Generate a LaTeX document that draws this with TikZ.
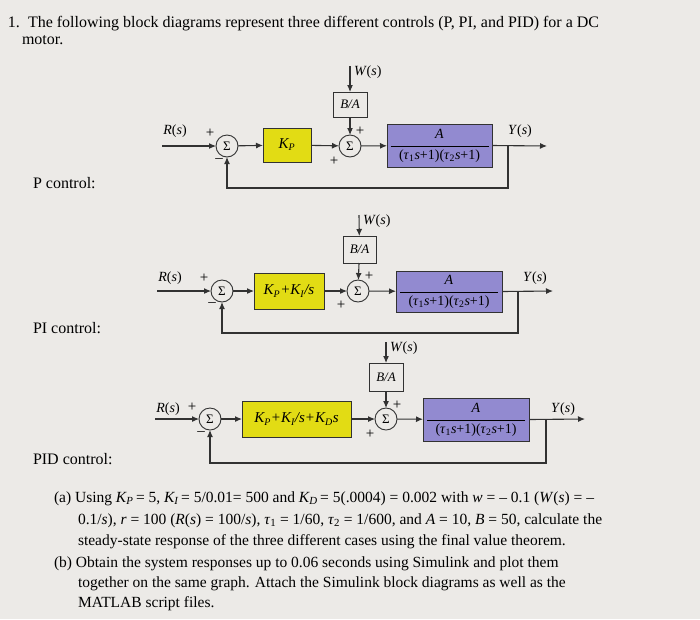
\documentclass[tikz,border=0pt]{standalone}
\usepackage{fontspec}
\setmainfont{Liberation Serif}
\usetikzlibrary{arrows.meta}
\definecolor{bg}{RGB}{236,234,231}
\definecolor{yel}{RGB}{226,220,20}
\definecolor{blu}{RGB}{146,138,208}
\definecolor{ln}{RGB}{50,50,50}
\newcommand{\ii}[1]{\textit{#1}}
\newcommand{\sbs}[1]{\textsubscript{\fontsize{10}{10}\selectfont #1}}
\newcommand{\plantfrac}{\ii{A}\\[-4pt]\rule{98pt}{0.6pt}\\[1pt](\ii{τ}\textsubscript{1}\ii{s}+1)(\ii{τ}\textsubscript{2}\ii{s}+1)}
\begin{document}
\begin{tikzpicture}[x=1pt,y=-1pt,
  every node/.style={inner sep=0pt,outer sep=0pt},
  sig/.style={draw=ln,line width=1.1pt,-{Latex[length=7pt,width=6pt]}},
  sum/.style={circle,draw=ln,line width=0.9pt,fill=bg,minimum size=22pt,font=\fontsize{13}{13}\selectfont},
  ybox/.style={draw=ln,line width=0.8pt,fill=yel,font=\fontsize{15}{15}\selectfont\itshape},
  bbox/.style={draw=ln,line width=0.8pt,fill=blu,align=center,font=\fontsize{14}{12}\selectfont},
  gbox/.style={draw=ln,line width=0.8pt,fill=bg,font=\fontsize{13}{13}\selectfont\itshape},
  lab/.style={font=\fontsize{14}{14}\selectfont},
  sgn/.style={font=\fontsize{15}{15}\selectfont},
  txt/.style={anchor=base west,font=\fontsize{16}{18}\selectfont},
  qtxt/.style={anchor=base west,font=\fontsize{15.5}{18}\selectfont}]
\fill[bg] (0,0) rectangle (700,619);
\useasboundingbox (0,0) rectangle (700,619);
\node[txt] (t1) at (8,27) {1.\ \ The following block diagrams represent three different controls (P, PI, and PID) for a DC};
\node[txt] (t2) at (22,44) {motor.};
\node[txt] (pc) at (33,188) {P control:};
\node[txt] (pic) at (33,333) {PI control:};
\node[txt] (pidc) at (33,464) {PID control:};
% ---------- P ----------
\coordinate (in1) at (162,146);
\node[sum] (s11) at (227,146) {Σ};
\node[ybox,minimum width=48pt,minimum height=34pt] (k1) at (287,145) {K\sbs{P}};
\node[sum] (s12) at (350,146) {Σ};
\node[gbox,minimum width=34pt,minimum height=25pt] (ba1) at (350,104.5) {B/A};
\coordinate (w1) at (350,66);
\node[bbox,minimum width=105pt,minimum height=43pt] (g1) at (439.5,145.5) {\plantfrac};
\coordinate (br1) at (508,146);
\coordinate (out1) at (547,146);
\coordinate (fb1) at (508,188);
\draw[sig] (in1) -- (s11);
\draw[sig] (s11) -- (k1);
\draw[sig] (k1) -- (s12);
\draw[sig] (w1) -- (ba1);
\draw[sig] (ba1) -- (s12);
\draw[sig] (s12) -- (g1);
\draw[sig] (g1.east) -- (out1);
\draw[sig] (br1) -- (fb1) -| (s11);
\node[lab] (r1) at (175,131) {\ii{R}(\ii{s})};
\node[lab] (y1) at (520,131) {\ii{Y}(\ii{s})};
\node[lab,anchor=west] (wl1) at (354,72) {\ii{W}(\ii{s})};
\node[sgn] (p11) at (210,133) {+};
\node[sgn] (m11) at (219,161) {–};
\node[sgn] (p12) at (334,161) {+};
\node[sgn] (p13) at (360,131) {+};
% ---------- PI ----------
\coordinate (in2) at (157,291);
\node[sum] (s21) at (222,291) {Σ};
\node[ybox,minimum width=70pt,minimum height=36pt] (k2) at (289,291) {K\sbs{P}+K\sbs{I}/s};
\node[sum] (s22) at (358,291) {Σ};
\node[gbox,minimum width=33pt,minimum height=27pt] (ba2) at (359.5,249.5) {B/A};
\coordinate (w2) at (359,215);
\node[bbox,minimum width=106pt,minimum height=41pt] (g2) at (449,291.5) {\plantfrac};
\coordinate (br2) at (518,291);
\coordinate (out2) at (553,291);
\coordinate (fb2) at (518,333);
\draw[sig] (in2) -- (s21);
\draw[sig] (s21) -- (k2);
\draw[sig] (k2) -- (s22);
\draw[sig] (w2) -- (ba2);
\draw[sig] (ba2) -- (s22);
\draw[sig] (s22) -- (g2);
\draw[sig] (g2.east) -- (out2);
\draw[sig] (br2) -- (fb2) -| (s21);
\node[lab] (r2) at (170,278) {\ii{R}(\ii{s})};
\node[lab] (y2) at (535,278) {\ii{Y}(\ii{s})};
\node[lab,anchor=west] (wl2) at (363,221) {\ii{W}(\ii{s})};
\node[sgn] (p21) at (204,278) {+};
\node[sgn] (m21) at (212,305) {–};
\node[sgn] (p22) at (341,305) {+};
\node[sgn] (p23) at (369,276) {+};
% ---------- PID ----------
\coordinate (in3) at (155,419);
\node[sum] (s31) at (210,419) {Σ};
\node[ybox,minimum width=109pt,minimum height=36pt] (k3) at (296.5,419) {K\sbs{P}+K\sbs{I}/s+K\sbs{D}s};
\node[sum] (s32) at (386,419) {Σ};
\node[gbox,minimum width=34pt,minimum height=28pt] (ba3) at (386,377) {B/A};
\coordinate (w3) at (386,342);
\node[bbox,minimum width=106pt,minimum height=43pt] (g3) at (476,419.5) {\plantfrac};
\coordinate (br3) at (546,419);
\coordinate (out3) at (585,419);
\coordinate (fb3) at (546,463);
\draw[sig] (in3) -- (s31);
\draw[sig] (s31) -- (k3);
\draw[sig] (k3) -- (s32);
\draw[sig] (w3) -- (ba3);
\draw[sig] (ba3) -- (s32);
\draw[sig] (s32) -- (g3);
\draw[sig] (g3.east) -- (out3);
\draw[sig] (br3) -- (fb3) -| (s31);
\node[lab] (r3) at (168,409) {\ii{R}(\ii{s})};
\node[lab] (y3) at (563,409) {\ii{Y}(\ii{s})};
\node[lab,anchor=west] (wl3) at (390,348) {\ii{W}(\ii{s})};
\node[sgn] (p31) at (192,407) {+};
\node[sgn] (m31) at (201,434) {–};
\node[sgn] (p32) at (370,434) {+};
\node[sgn] (p33) at (397,405) {+};
% ---------- questions ----------
\node[qtxt] (a1) at (54,502) {(a) Using \ii{K\textsubscript{P}}\,= 5, \ii{K\textsubscript{I}}\,= 5/0.01= 500 and \ii{K\textsubscript{D}}\,= 5(.0004) = 0.002 with \ii{w} = – 0.1 (\ii{W}(\ii{s}) = –};
\node[qtxt] (a2) at (78,524) {0.1/\ii{s}), \ii{r} = 100 (\ii{R}(\ii{s}) = 100/\ii{s}), \ii{τ}\textsubscript{1} = 1/60, \ii{τ}\textsubscript{2} = 1/600, and \ii{A} = 10, \ii{B} = 50, calculate the};
\node[qtxt] (a3) at (78,545) {steady-state response of the three different cases using the final value theorem.};
\node[qtxt] (b1) at (54,567) {(b) Obtain the system responses up to 0.06 seconds using Simulink and plot them};
\node[qtxt] (b2) at (78,587) {together on the same graph. Attach the Simulink block diagrams as well as the};
\node[qtxt] (b3) at (78,607) {MATLAB script files.};
\end{tikzpicture}
\end{document}
